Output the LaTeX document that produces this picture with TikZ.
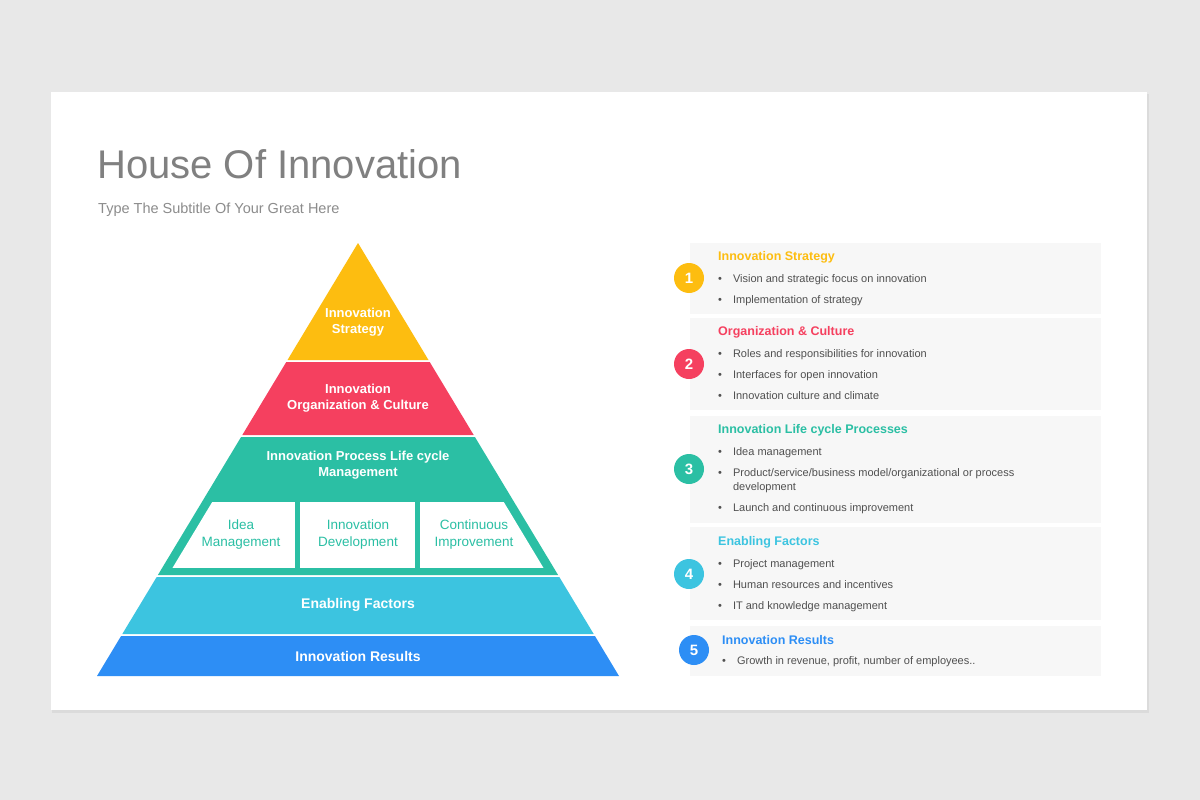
\documentclass[tikz,border=0pt]{standalone}
\usepackage{fontspec}
\setmainfont{Liberation Sans}
\usetikzlibrary{positioning, calc}
\definecolor{cYellow}{HTML}{FDBD10}
\definecolor{cRed}{HTML}{F5405F}
\definecolor{cTeal}{HTML}{2BBFA4}
\definecolor{cCyan}{HTML}{3CC4E0}
\definecolor{cBlue}{HTML}{2D8EF5}
\definecolor{cText}{HTML}{505050}
\tikzstyle{band} = [white, font=\bfseries\fontsize{13}{16}\selectfont, align=center]
\tikzstyle{inner} = [cTeal, font=\fontsize{13.5}{17}\selectfont, align=center]
\tikzstyle{card} = [fill=black!3, draw=none]
\tikzstyle{num} = [circle, minimum size=30pt, inner sep=0pt, text=white, font=\bfseries\fontsize{15}{15}\selectfont]
\tikzstyle{head} = [anchor=west, inner sep=0pt, font=\bfseries\fontsize{12.5}{15}\selectfont]
\tikzstyle{item} = [anchor=north west, inner sep=0pt, text=cText, font=\fontsize{11}{14}\selectfont, align=left]
\newcommand{\bul}[3]{\node[item] at (#1,#2) {\textbullet\hspace{11pt}\begin{tabular}[t]{@{}l@{}}#3\end{tabular}};}

\begin{document}
\begin{tikzpicture}[x=1pt, y=-1pt]
    % background and slide
    \fill[black!9] (0,0) rectangle (1200,800);
    \fill[black!14] (52,94) rectangle (1149,713);
    \fill[white] (51,92) rectangle (1147,710);
    \useasboundingbox (0,0) rectangle (1200,800);

    \node (Title) [anchor=base west, inner sep=0pt, text=black!50, font=\fontsize{40}{40}\selectfont] at (97,178) {House Of Innovation};
    \node (Subtitle) [anchor=base west, inner sep=0pt, text=black!45, font=\fontsize{14.5}{16}\selectfont] at (98,213) {Type The Subtitle Of Your Great Here};

    % pyramid bands
    \fill[cYellow] (358,243) -- (428.5,360) -- (287.5,360) -- cycle;
    \fill[cRed] (286.3,362) -- (429.7,362) -- (473.7,435) -- (242.3,435) -- cycle;
    \fill[cTeal] (241.1,437) -- (474.9,437) -- (558.1,575) -- (157.9,575) -- cycle;
    \fill[cCyan] (156.7,577) -- (559.3,577) -- (593.7,634) -- (122.3,634) -- cycle;
    \fill[cBlue] (121.1,636) -- (594.9,636) -- (619,676) -- (97,676) -- cycle;
    \begin{scope}
        \clip (358,260) -- (608,675) -- (108,675) -- cycle;
        \fill[white] (150,502) rectangle (295,568);
        \fill[white] (300,502) rectangle (415,568);
        \fill[white] (420,502) rectangle (570,568);
    \end{scope}

    \node (Strategy) [band] at (358,322) {Innovation\\Strategy};
    \node (Culture) [band] at (358,398) {Innovation\\Organization \& Culture};
    \node (Process) [band] at (358,465) {Innovation Process Life cycle\\Management};
    \node (Idea) [inner] at (241,535) {Idea\\Management};
    \node (Develop) [inner] at (358,535) {Innovation\\Development};
    \node (Improve) [inner] at (474,535) {Continuous\\Improvement};
    \node (Enabling) [band, font=\bfseries\fontsize{14}{16}\selectfont] at (358,605) {Enabling Factors};
    \node (Results) [band, font=\bfseries\fontsize{14}{16}\selectfont] at (358,656) {Innovation Results};

    % right panel cards
    \fill[card] (690,243) rectangle (1101,314);
    \fill[card] (690,318) rectangle (1101,410);
    \fill[card] (690,416) rectangle (1101,523);
    \fill[card] (690,527) rectangle (1101,620);
    \fill[card] (690,626) rectangle (1101,676);

    \foreach \n/\c/\y/\x in {1/cYellow/278/689, 2/cRed/364/689, 3/cTeal/469/689, 4/cCyan/574/689, 5/cBlue/650/694}
        \node (Num\n) [num, fill=\c] at (\x,\y) {\n};

    \node (Head1) [head, text=cYellow] at (718,257) {Innovation Strategy};
    \bul{718}{272}{Vision and strategic focus on innovation}
    \bul{718}{293}{Implementation of strategy}

    \node (Head2) [head, text=cRed] at (718,332) {Organization \& Culture};
    \bul{718}{347}{Roles and responsibilities for innovation}
    \bul{718}{368}{Interfaces for open innovation}
    \bul{718}{389}{Innovation culture and climate}

    \node (Head3) [head, text=cTeal] at (718,430) {Innovation Life cycle Processes};
    \bul{718}{445}{Idea management}
    \bul{718}{466}{Product/service/business model/organizational or process\\development}
    \bul{718}{501}{Launch and continuous improvement}

    \node (Head4) [head, text=cCyan] at (718,542) {Enabling Factors};
    \bul{718}{557}{Project management}
    \bul{718}{578}{Human resources and incentives}
    \bul{718}{599}{IT and knowledge management}

    \node (Head5) [head, text=cBlue] at (722,640) {Innovation Results};
    \bul{722}{654}{Growth in revenue, profit, number of employees..}
\end{tikzpicture}
\end{document}
